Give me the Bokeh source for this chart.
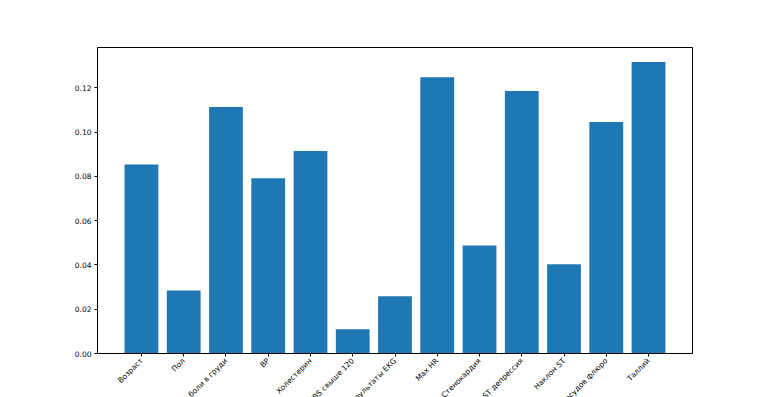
import math
from bokeh.plotting import figure
from bokeh.models import Range1d, FixedTicker, NumeralTickFormatter, ColumnDataSource
from bokeh.embed import file_html
from bokeh.resources import INLINE

features = ["Возраст", "Пол", "Тип боли в груди", "BP", "Холестерин", "FBS свыше 120",
            "Результаты EKG", "Max HR", "Стенокардия", "ST депрессия", "Наклон ST",
            "Кол-во сосудов флюро", "Таллий"]
importance = [0.0853, 0.0285, 0.1113, 0.0791, 0.0914, 0.0109, 0.0258, 0.1248,
              0.0488, 0.1185, 0.0403, 0.1045, 0.1316]
y_ticks = [0.0, 0.02, 0.04, 0.06, 0.08, 0.10, 0.12]

FONT_PX = 7.5

pos = list(range(len(features)))
src = ColumnDataSource(dict(x=pos, top=importance))

p = figure(frame_width=595, frame_height=306, output_backend="svg", toolbar_location=None,
           x_range=Range1d(-1.04, len(features) - 1 + 1.04),
           y_range=Range1d(0, max(importance) * 1.05),
           min_border_left=97, min_border_top=47, min_border_right=60, min_border_bottom=0)
p.vbar(x="x", top="top", width=0.8, source=src, color="#1f77b4", line_color=None)

p.xgrid.visible = False
p.ygrid.visible = False
p.outline_line_color = "black"
p.outline_line_width = 1

p.xaxis.ticker = FixedTicker(ticks=pos)
p.xaxis.major_label_overrides = {i: f for i, f in enumerate(features)}
p.xaxis.major_label_orientation = math.pi / 4
p.yaxis.ticker = FixedTicker(ticks=y_ticks)
p.yaxis.formatter = NumeralTickFormatter(format="0.00")

for ax in (p.xaxis, p.yaxis):
    ax.major_label_text_font = "DejaVu Sans"
    ax.major_label_text_font_size = f"{FONT_PX}px"
    ax.major_label_text_color = "#000000"
    ax.axis_line_color = "black"
    ax.major_tick_line_color = "black"
    ax.major_tick_in = 0
    ax.major_tick_out = 3
    ax.minor_tick_line_color = None
    ax.major_label_standoff = 3

open("out.html", "w").write(file_html(p, INLINE))
